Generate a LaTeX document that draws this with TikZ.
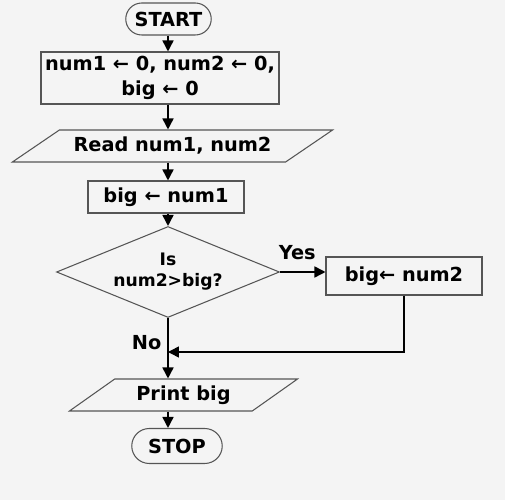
\documentclass[tikz,border=0pt]{standalone}
\usepackage{fontspec}
\setmainfont{DejaVu Sans}
\usetikzlibrary{shapes,arrows.meta}
\definecolor{paper}{RGB}{244,244,244}
\definecolor{rim}{RGB}{85,85,85}

\begin{document}
\begin{tikzpicture}[x=0.02cm,y=-0.02cm,->,>={Triangle[length=2.2mm,width=2.2mm]},line width=0.9pt,
  main node/.style={rectangle,draw=rim,line width=0.6pt,align=center,inner sep=1pt,font=\bfseries\fontsize{11}{14}\selectfont},
  end node/.style={main node,rounded rectangle},
  io node/.style={main node,trapezium,trapezium stretches=true,minimum height=0.64cm},
  test node/.style={main node,diamond,aspect=2.45,font=\bfseries\fontsize{9.8}{12}\selectfont}]

  \fill[paper] (0,0) rectangle (505,500);

  \node[end node,minimum width=1.78cm,minimum height=0.64cm] (1) at (168.5,19) {START};
  \node[main node,minimum width=4.76cm,minimum height=1.04cm] (2) at (160,78) {num1 ← 0, num2 ← 0,\\big ← 0};
  \node[io node,trapezium left angle=26.6,trapezium right angle=153.4,minimum width=6.42cm] (3) at (172.5,146) {Read num1, num2};
  \node[main node,minimum width=3.12cm,minimum height=0.64cm] (4) at (166,197) {big ← num1};
  \node[test node,minimum width=4.46cm,minimum height=1.82cm] (5) at (168,272) {Is\\num2>big?};
  \node[main node,minimum width=3.12cm,minimum height=0.76cm] (6) at (404,276) {big← num2};
  \node[io node,trapezium left angle=34.8,trapezium right angle=145.2,minimum width=4.58cm] (7) at (183.5,395) {Print big};
  \node[end node,minimum width=1.88cm,minimum height=0.7cm] (8) at (177,446) {STOP};
  \coordinate (9) at (168,352);

  \path[every node/.style={font=\bfseries\fontsize{11}{14}\selectfont}]
    (1.south -| 5) edge (2.north -| 5)
    (2.south -| 5) edge (3.north -| 5)
    (3.south -| 5) edge (4.north -| 5)
    (4.south -| 5) edge (5.north)
    (5.east) edge node[above=3pt,pos=0.38] {Yes} (5.east -| 6.west)
    (5.south) edge node[left,pos=0.41] {No} (5.south |- 7.north)
    (7.south -| 5) edge (8.north -| 5);
  \draw (6.south) |- (9);
\end{tikzpicture}
\end{document}
